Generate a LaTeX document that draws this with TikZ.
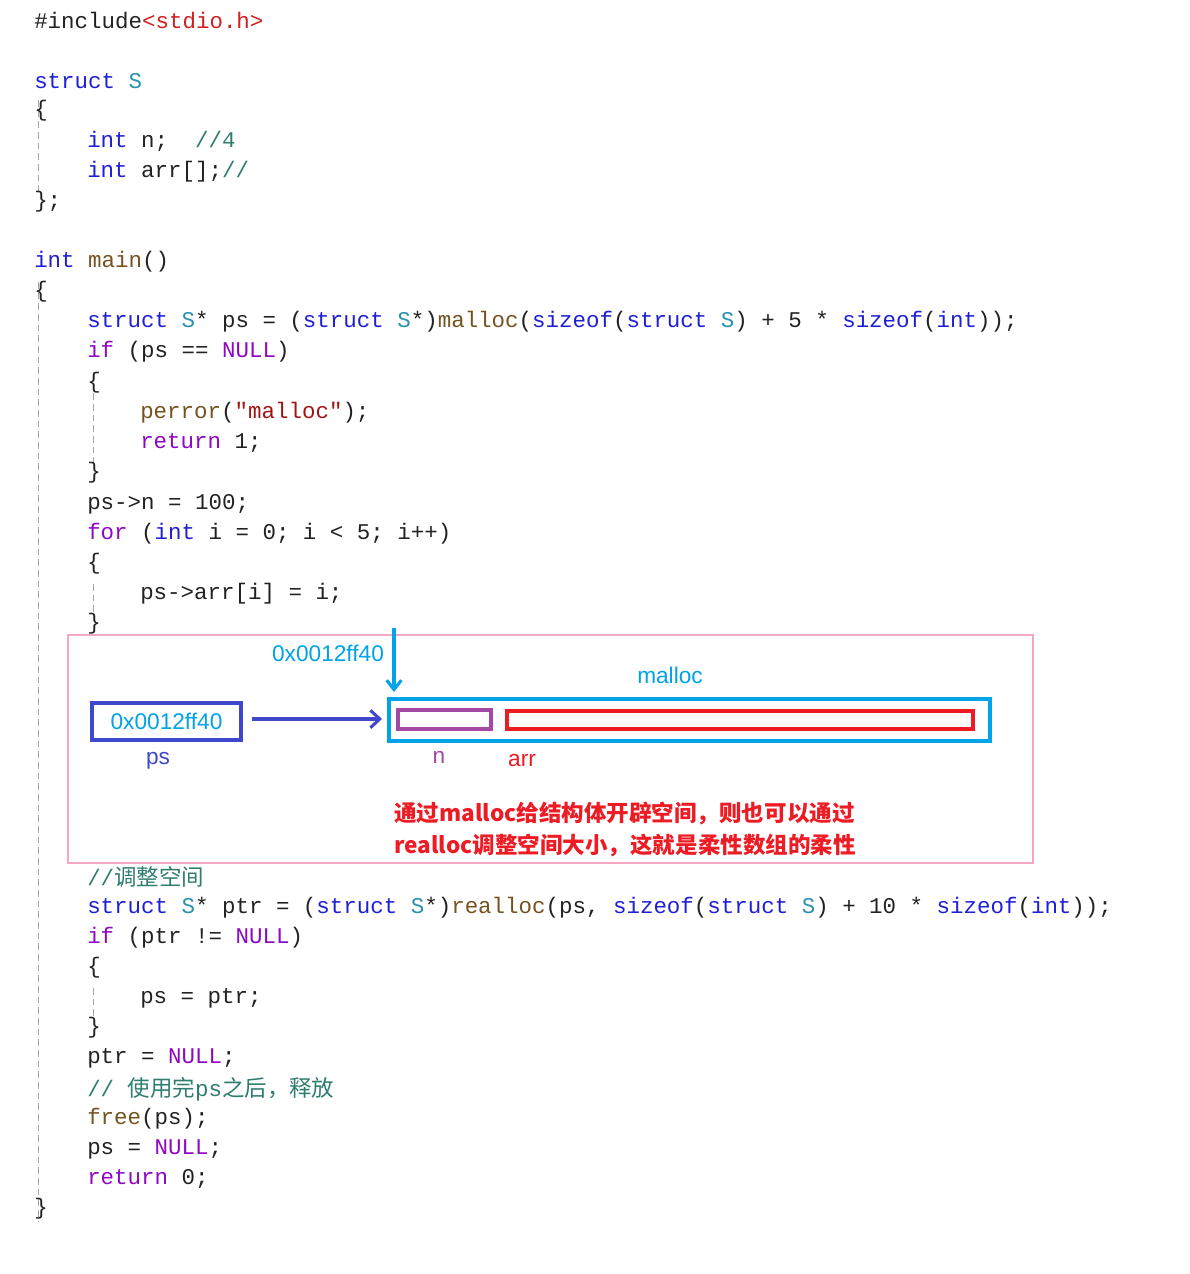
\documentclass[tikz,border=0pt]{standalone}
\usepackage{fontspec}
\setmainfont{Liberation Sans}
\setmonofont{Liberation Mono}
\newfontfamily\cjk{Noto Sans CJK SC}
\usetikzlibrary{arrows.meta}
\definecolor{kw}{HTML}{1F1FD6}
\definecolor{ty}{HTML}{2B91AF}
\definecolor{cm}{HTML}{2E7D6E}
\definecolor{fn}{HTML}{74531F}
\definecolor{ctl}{HTML}{8F08C4}
\definecolor{str}{HTML}{A31515}
\definecolor{inc}{HTML}{D22020}
\definecolor{txt}{HTML}{222222}
\definecolor{pinkc}{HTML}{F4A6C4}
\definecolor{psb}{HTML}{3F48CC}
\definecolor{cy}{HTML}{00A2E8}
\definecolor{pu}{HTML}{A349A4}
\definecolor{rd}{HTML}{ED1C24}
\newcommand\cK[1]{\textcolor{kw}{#1}}
\newcommand\cT[1]{\textcolor{ty}{#1}}
\newcommand\cC[1]{\textcolor{cm}{#1}}
\newcommand\cF[1]{\textcolor{fn}{#1}}
\newcommand\cP[1]{\textcolor{ctl}{#1}}
\newcommand\cS[1]{\textcolor{str}{#1}}
\begin{document}
\begin{tikzpicture}[x=0.75pt,y=-0.75pt,
  code/.style={anchor=west,inner sep=0pt,font=\ttfamily\fontsize{16.85}{18}\selectfont,text=txt},
  guide/.style={draw=gray!70,dashed,line width=0.6pt,dash pattern=on 5pt off 3pt},
  lbl/.style={inner sep=0pt,font=\fontsize{17}{19}\selectfont}]
\useasboundingbox (0,0) rectangle (1189,1274);
\fill[white] (0,0) rectangle (1189,1274);
% guides
\draw[guide] (38,100) -- (38,195);
\draw[guide] (38,282) -- (38,1222);
\draw[guide] (93,372) -- (93,462);
\draw[guide] (93,584) -- (93,615);
\draw[guide] (93,988) -- (93,1018);
% code
\node[code] (l1) at (34,21) {\#include\textcolor{inc}{<stdio.h>}};
\node[code] (l2) at (34,81) {\cK{struct} \cT{S}};
\node[code] (l3) at (34,111) {\{};
\node[code] (l4) at (87,141) {\cK{int} n;\ \ \cC{//4}};
\node[code] (l5) at (87,172) {\cK{int} arr[];\cC{//}};
\node[code] (l6) at (34,202) {\};};
\node[code] (l7) at (34,262) {\cK{int} \cF{main}()};
\node[code] (l8) at (34,292) {\{};
\node[code] (l9) at (87,322) {\cK{struct} \cT{S}* ps = (\cK{struct} \cT{S}*)\cF{malloc}(\cK{sizeof}(\cK{struct} \cT{S}) + 5 * \cK{sizeof}(\cK{int}));};
\node[code] (l10) at (87,352) {\cP{if} (ps == \cP{NULL})};
\node[code] (l11) at (87,383) {\{};
\node[code] (l12) at (140,413) {\cF{perror}(\cS{"malloc"});};
\node[code] (l13) at (140,443) {\cP{return} 1;};
\node[code] (l14) at (87,473) {\}};
\node[code] (l15) at (87,504) {ps->n = 100;};
\node[code] (l16) at (87,534) {\cP{for} (\cK{int} i = 0; i < 5; i++)};
\node[code] (l17) at (87,564) {\{};
\node[code] (l18) at (140,594) {ps->arr[i] = i;};
\node[code] (l19) at (87,624) {\}};
% pink box
\node[draw=pinkc,line width=1.5pt,fill=white,minimum width=965*0.75pt,minimum height=228*0.75pt,anchor=north west,inner sep=0pt] (pink) at (67,634) {};
% diagram
\node[draw=psb,line width=2.3pt,minimum width=149*0.75pt,minimum height=37*0.75pt,inner sep=0pt,text=cy,font=\fontsize{17}{19}\selectfont] (psbox) at (166.5,721.5) {0x0012ff40};
\node[lbl,text=psb] (pslbl) at (158,761) {ps};
\node[draw=cy,line width=3pt,minimum width=601*0.75pt,minimum height=42*0.75pt,inner sep=0pt] (mal) at (689.5,720) {};
\node[draw=pu,line width=2.5pt,minimum width=93*0.75pt,minimum height=19*0.75pt,inner sep=0pt] (nbox) at (444.5,719.5) {};
\node[draw=rd,line width=2.5pt,minimum width=466*0.75pt,minimum height=18*0.75pt,inner sep=0pt] (arrbox) at (740,720) {};
\node[lbl,text=pu] (nl) at (439,757) {n};
\node[lbl,text=rd] (al) at (522,761) {arr};
\node[lbl,text=cy] (ml) at (670,675) {malloc};
\node[lbl,text=cy] (addr) at (328,653) {0x0012ff40};
\coordinate (top) at (394,628);
\coordinate (topend) at (394,692);
\coordinate (pstart) at (252,719);
\coordinate (pend) at (382,719);
\draw[cy,line width=2.3pt,-{Straight Barb[length=7pt,width=11pt]}] (top) -- (topend);
\draw[psb,line width=2.3pt,-{Straight Barb[length=7pt,width=13pt]}] (pstart) -- (pend);
\node[anchor=west,inner sep=0pt,text=rd,font=\cjk\bfseries\fontsize{16.9}{19}\selectfont] (z1) at (394,813) {通过malloc给结构体开辟空间，则也可以通过};
\node[anchor=west,inner sep=0pt,text=rd,font=\cjk\bfseries\fontsize{16.9}{19}\selectfont] (z2) at (394,845) {realloc调整空间大小，这就是柔性数组的柔性};
% code continued
\node[code] (m1) at (87,877) {\cC{//{\cjk 调整空间}}};
\node[code] (m2) at (87,908) {\cK{struct} \cT{S}* ptr = (\cK{struct} \cT{S}*)\cF{realloc}(ps, \cK{sizeof}(\cK{struct} \cT{S}) + 10 * \cK{sizeof}(\cK{int}));};
\node[code] (m3) at (87,938) {\cP{if} (ptr != \cP{NULL})};
\node[code] (m4) at (87,968) {\{};
\node[code] (m5) at (140,998) {ps = ptr;};
\node[code] (m6) at (87,1028) {\}};
\node[code] (m7) at (87,1058) {ptr = \cP{NULL};};
\node[code] (m8) at (87,1089) {\cC{// {\cjk 使用完}ps{\cjk 之后，释放}}};
\node[code] (m9) at (87,1119) {\cF{free}(ps);};
\node[code] (m10) at (87,1149) {ps = \cP{NULL};};
\node[code] (m11) at (87,1179) {\cP{return} 0;};
\node[code] (m12) at (34,1209) {\}};
\end{tikzpicture}
\end{document}
